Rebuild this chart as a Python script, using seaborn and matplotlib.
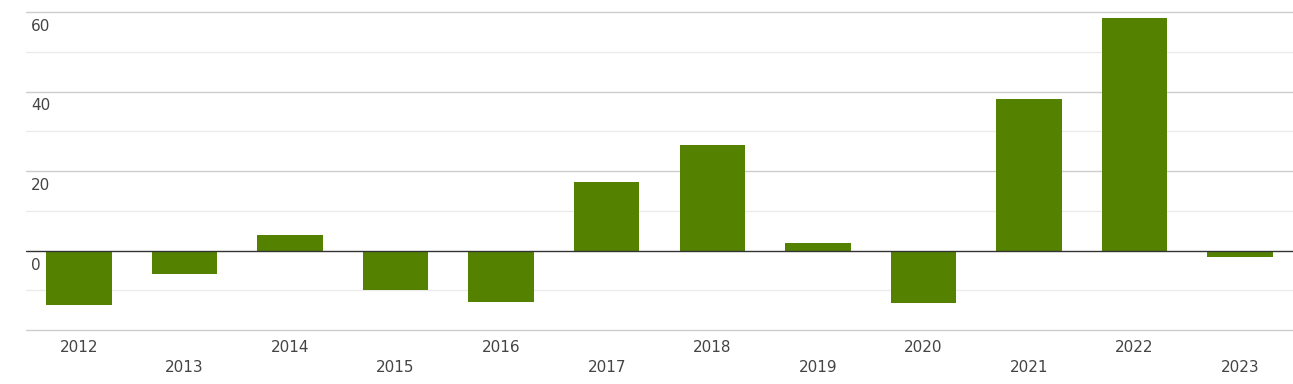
import matplotlib
matplotlib.use("Agg")
import matplotlib.pyplot as plt
import matplotlib.transforms as mtrans
import seaborn as sns
import pandas as pd

years = ["2012", "2013", "2014", "2015", "2016", "2017", "2018", "2019", "2020", "2021", "2022", "2023"]
values = [-13.6, -5.9, 4.0, -10.0, -13.0, 17.3, 26.6, 2.0, -13.3, 38.2, 58.5, -1.7]
ytick_vals = [0, 20, 40, 60]

sns.set_theme(style="white")
plt.rcParams['font.family'] = ['DejaVu Sans']

W, H = 1293, 384
fig = plt.figure(figsize=(W / 100, H / 100), dpi=100)
ax = fig.add_axes([26 / W, 1 - 330 / H, (1293 - 26) / W, (330 - 12) / H])

df = pd.DataFrame({"year": years, "value": values})
sns.barplot(data=df, x="year", y="value", color="#548200", saturation=1, width=0.62,
            linewidth=0, edgecolor="none", ax=ax, zorder=3)

ax.set_ylim(-20, 60)
ax.set_xlim(-0.5, 11.5)
for y in [-20, 20, 40, 60]:
    ax.axhline(y, color="#cccccc", lw=1, zorder=1, clip_on=False)
for y in [-10, 10, 30, 50]:
    ax.axhline(y, color="#ebebeb", lw=1, zorder=1)
ax.axhline(0, color="#333333", lw=1, zorder=4)

for s in ax.spines.values():
    s.set_visible(False)
ax.set_yticks([])
ax.set_xlabel("")
ax.set_ylabel("")
ax.set_xticks(range(len(years)))
ax.set_xticklabels([])
ax.tick_params(axis="x", length=0)

ylab_tr = mtrans.blended_transform_factory(fig.transFigure, ax.transData) + \
    mtrans.ScaledTranslation(0, -7 / 100, fig.dpi_scale_trans)
for v in ytick_vals:
    ax.text(31 / W, v, str(v), transform=ylab_tr,
            ha="left", va="top", fontsize=11, color="#444444")

xlab_tr = mtrans.blended_transform_factory(ax.transData, fig.transFigure)
for i, yr in enumerate(years):
    yoff = 348 if i % 2 == 0 else 368
    ax.text(i, 1 - yoff / H, yr, transform=xlab_tr,
            ha="center", va="center", fontsize=11, color="#444444")

fig.savefig("out.png", dpi=100)
